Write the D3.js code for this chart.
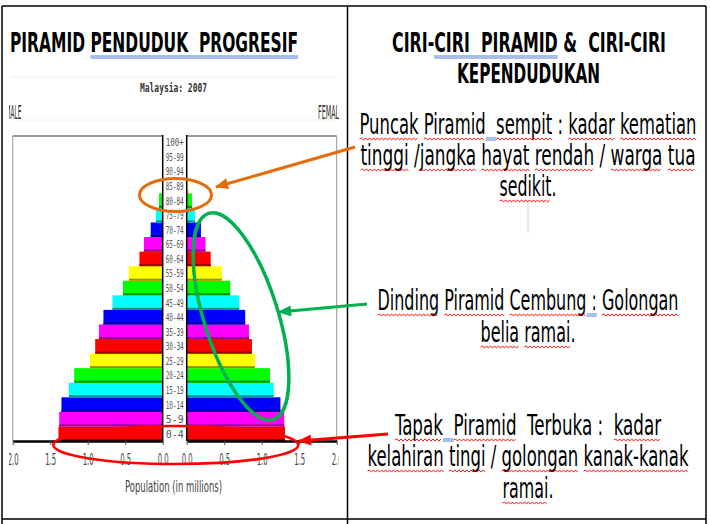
<!DOCTYPE html>
<html>
<head>
<meta charset="utf-8">
<script src="https://cdn.jsdelivr.net/npm/d3@7"></script>
<style>
  body { margin: 0; background: #fff; }
  svg { display: block; }
  text { white-space: pre; }
</style>
</head>
<body>
<svg id="chart" width="710" height="524"></svg>
<script>
// --- data (millions) ---
const ageGroups = ["0-4","5-9","10-14","15-19","20-24","25-29","30-34","35-39","40-44","45-49",
  "50-54","55-59","60-64","65-69","70-74","75-79","80-84","85-89","90-94","95-99","100+"]
const male   = [1.39,1.38,1.35,1.25,1.18,0.97,0.90,0.85,0.79,0.67,0.53,0.45,0.31,0.25,0.16,0.09,0.05,0.01,0.005,0.001,0]
const female = [1.31,1.30,1.25,1.16,1.11,0.91,0.87,0.83,0.78,0.70,0.58,0.47,0.32,0.25,0.19,0.11,0.07,0.02,0.005,0.001,0]
const barColors = ["#ff0000","#ff00ff","#0000ff","#00ffff","#00ff00","#ffff00"]
const xTicks = [0, 0.5, 1, 1.5, 2]

const notes = [
  { text: "Puncak Piramid  sempit : kadar kematian", y: 134, w: 337, red: ["Puncak","Piramid","sempit","kadar","kematian"], blue: ["  "] },
  { text: "tinggi /jangka hayat rendah / warga tua", y: 165, w: 335, red: ["tinggi","jangka","hayat","rendah","warga","tua"], blue: [] },
  { text: "sedikit.", y: 196, w: 57, red: ["sedikit"], blue: [] },
  { text: "Dinding Piramid Cembung : Golongan", y: 310, w: 301, red: ["Dinding","Piramid","Cembung","Golongan"], blue: [" :"] },
  { text: "belia ramai.", y: 342, w: 95, red: ["belia","ramai"], blue: [] },
  { text: "Tapak  Piramid  Terbuka :  kadar", y: 435, w: 266, red: ["Tapak","Piramid","kadar"], blue: ["  "] },
  { text: "kelahiran tingi / golongan kanak-kanak", y: 466, w: 321, red: ["kelahiran","tingi","golongan","kanak-kanak"], blue: [] },
  { text: "ramai.", y: 498, w: 51, red: ["ramai"], blue: [] }
]

const narrow = "'Liberation Sans Narrow', 'DejaVu Sans Condensed', 'Roboto', sans-serif"
const mono = "'DejaVu Sans Mono', 'Liberation Mono', monospace"

const svg = d3.select("#chart")
svg.append("rect").attr("width", 710).attr("height", 524).attr("fill", "#fff")

const defs = svg.append("defs")
defs.append("clipPath").attr("id", "imgclip")
  .append("rect").attr("x", 9).attr("y", 72).attr("width", 330).attr("height", 430)

function arrowMarker(id, color) {
  defs.append("marker").attr("id", id)
    .attr("viewBox", "0 0 12 10").attr("refX", 11).attr("refY", 5)
    .attr("markerWidth", 14).attr("markerHeight", 11)
    .attr("markerUnits", "userSpaceOnUse").attr("orient", "auto")
    .append("path").attr("d", "M0,0L12,5L0,10Z").attr("fill", color)
}

// --- helpers for the spell-check squiggles ---
function wavy(x0, x1, yy) {
  let p = `M${x0},${yy}`, up = true
  for (let x = x0 + 2; x <= x1; x += 2) { p += `L${x},${yy + (up ? -1.1 : 1.1)}`; up = !up }
  return p
}
function span(node, str, word, from) {
  const i = str.indexOf(word, from)
  const n = node.getNumberOfChars()
  if (i < 0 || i + word.length > n) return null
  return { x0: node.getStartPositionOfChar(i).x, x1: node.getEndPositionOfChar(i + word.length - 1).x, next: i + word.length }
}
function blueDouble(g, x0, x1, yy) {
  [0, 2].forEach(dy => g.append("line").attr("x1", x0).attr("x2", x1)
    .attr("y1", yy + dy).attr("y2", yy + dy).attr("stroke", "#3a6fd8").attr("stroke-width", 0.9))
}

// --- table frame ---
const frame = svg.append("g").attr("stroke", "#000").attr("stroke-width", 1.5)
frame.append("line").attr("x1", 2).attr("x2", 706).attr("y1", 6).attr("y2", 6)
frame.append("line").attr("x1", 2).attr("x2", 706).attr("y1", 519).attr("y2", 519)
;[2, 347.5, 706].forEach(x => frame.append("line").attr("x1", x).attr("x2", x).attr("y1", 6).attr("y2", 524))

// --- headers ---
const title = svg.append("text").attr("x", 10).attr("y", 52)
  .attr("font-family", narrow).attr("font-weight", "bold").attr("font-size", 27)
  .attr("textLength", 288).attr("lengthAdjust", "spacingAndGlyphs")
  .text("PIRAMID PENDUDUK  PROGRESIF")
const head1 = svg.append("text").attr("x", 529).attr("y", 52).attr("text-anchor", "middle")
  .attr("font-family", narrow).attr("font-weight", "bold").attr("font-size", 27)
  .attr("textLength", 274).attr("lengthAdjust", "spacingAndGlyphs")
  .text("CIRI-CIRI  PIRAMID &  CIRI-CIRI")
svg.append("text").attr("x", 528.5).attr("y", 83).attr("text-anchor", "middle")
  .attr("font-family", narrow).attr("font-weight", "bold").attr("font-size", 27)
  .attr("textLength", 143).attr("lengthAdjust", "spacingAndGlyphs")
  .text("KEPENDUDUKAN")

// --- pyramid picture ---
const img = svg.append("g").attr("clip-path", "url(#imgclip)")
const plotTop = 136, base = 441
const xMale = d3.scaleLinear().domain([0, 2]).range([162.7, 12.7])
const xFemale = d3.scaleLinear().domain([0, 2]).range([186.7, 336.7])
const y = d3.scaleBand().domain(ageGroups).range([base, base - ageGroups.length * 14.57])

img.append("line").attr("x1", 12).attr("x2", 337).attr("y1", 77).attr("y2", 77).attr("stroke", "#ececec")
img.append("line").attr("x1", 12).attr("x2", 337).attr("y1", 120).attr("y2", 120).attr("stroke", "#f2f2f2")
img.append("text").attr("x", 173.5).attr("y", 92).attr("text-anchor", "middle")
  .attr("font-family", mono).attr("font-weight", "bold").attr("font-size", 13).attr("fill", "#333")
  .attr("textLength", 67).attr("lengthAdjust", "spacingAndGlyphs").text("Malaysia: 2007")
img.append("text").attr("x", 21.5).attr("y", 119).attr("text-anchor", "end")
  .attr("font-family", narrow).attr("font-size", 20).attr("fill", "#333")
  .attr("textLength", 16).attr("lengthAdjust", "spacingAndGlyphs").text("MALE")
img.append("text").attr("x", 318).attr("y", 119)
  .attr("font-family", narrow).attr("font-size", 20).attr("fill", "#333")
  .attr("textLength", 25).attr("lengthAdjust", "spacingAndGlyphs").text("FEMALE")

// plot box
const box = img.append("g").attr("stroke", "#999").attr("fill", "none")
box.append("line").attr("x1", 12.7).attr("x2", 162.7).attr("y1", plotTop).attr("y2", plotTop).attr("stroke-width", 2)
box.append("line").attr("x1", 186.7).attr("x2", 336.7).attr("y1", plotTop).attr("y2", plotTop).attr("stroke-width", 2)
box.append("line").attr("x1", 12.7).attr("x2", 12.7).attr("y1", plotTop).attr("y2", base)
box.append("line").attr("x1", 336.7).attr("x2", 336.7).attr("y1", plotTop).attr("y2", base)

const rows = ageGroups.map((a, i) => ({ age: a, m: male[i], f: female[i], c: barColors[i % barColors.length] }))

function bars(scale, key) {
  const g = img.append("g")
  g.selectAll("rect.bar").data(rows.filter(d => d[key] > 0)).join("rect").attr("class", "bar")
    .attr("x", d => Math.min(scale(0), scale(d[key])))
    .attr("y", d => y(d.age))
    .attr("width", d => Math.abs(scale(d[key]) - scale(0)))
    .attr("height", y.bandwidth())
    .attr("fill", d => d.c)
  g.selectAll("rect.shade").data(rows.filter(d => d[key] > 0)).join("rect").attr("class", "shade")
    .attr("x", d => Math.min(scale(0), scale(d[key])))
    .attr("y", d => y(d.age) + y.bandwidth() - 2)
    .attr("width", d => Math.abs(scale(d[key]) - scale(0)))
    .attr("height", 2)
    .attr("fill", d => d3.color(d.c).darker(1.6))
}
bars(xMale, "m")
bars(xFemale, "f")

// centre age column
img.append("g").selectAll("text").data(ageGroups).join("text")
  .attr("x", 174.7).attr("y", d => y(d) + y.bandwidth() / 2 + 4).attr("text-anchor", "middle")
  .attr("font-family", mono).attr("font-size", 11).attr("fill", "#555")
  .attr("textLength", 18).attr("lengthAdjust", "spacingAndGlyphs")
  .text(d => d)
;[162.7, 186.7].forEach(x => img.append("line").attr("x1", x).attr("x2", x)
  .attr("y1", plotTop - 1).attr("y2", base).attr("stroke", "#000").attr("stroke-width", 1.5))

// axes
function axis(scale) {
  const g = img.append("g").attr("transform", `translate(0,${base})`)
    .call(d3.axisBottom(scale).tickValues(xTicks).tickSize(4).tickSizeOuter(0).tickFormat(d3.format(".1f")))
  g.select(".domain").attr("stroke", "#000").attr("stroke-width", 2.5)
  g.selectAll(".tick line").attr("stroke", "#555")
  g.selectAll(".tick text").attr("y", 14).attr("dy", "0.6em")
    .attr("font-family", narrow).attr("font-size", 16).attr("fill", "#444")
    .attr("textLength", 11).attr("lengthAdjust", "spacingAndGlyphs")
}
axis(xMale)
axis(xFemale)
img.append("text").attr("x", 173.5).attr("y", 492).attr("text-anchor", "middle")
  .attr("font-family", narrow).attr("font-size", 16).attr("fill", "#444")
  .attr("textLength", 97).attr("lengthAdjust", "spacingAndGlyphs").text("Population (in millions)")

// --- right column notes ---
const noteG = svg.append("g")
notes.forEach(n => {
  const t = noteG.append("text").attr("x", 528).attr("y", n.y).attr("text-anchor", "middle")
    .attr("font-family", narrow).attr("font-size", 28).attr("fill", "#000")
    .attr("textLength", n.w).attr("lengthAdjust", "spacingAndGlyphs").text(n.text)
  const node = t.node()
  let from = 0
  n.red.forEach(w => {
    const s = span(node, n.text, w, from)
    if (!s) return
    from = s.next
    noteG.append("path").attr("d", wavy(s.x0, s.x1, n.y + 5))
      .attr("fill", "none").attr("stroke", "#e00").attr("stroke-width", 0.9)
  })
  n.blue.forEach(w => {
    const s = span(node, n.text, w, 0)
    if (s) blueDouble(noteG, s.x0, s.x1, n.y + 4)
  })
})
svg.append("line").attr("x1", 528).attr("x2", 528).attr("y1", 203).attr("y2", 233).attr("stroke", "#d0d0d0")

// header underlines
{
  const s1 = span(title.node(), "PIRAMID PENDUDUK  PROGRESIF", "PENDUDUK  PROGRESIF", 0)
  if (s1) blueDouble(svg, s1.x0, s1.x1, 56)
  const s2 = span(head1.node(), "CIRI-CIRI  PIRAMID &  CIRI-CIRI", "CIRI  PIRAMID", 0)
  if (s2) blueDouble(svg, s2.x0, s2.x1, 56)
}

// --- annotations ---
arrowMarker("arrOrange", "#e46c0a")
arrowMarker("arrGreen", "#00b050")
arrowMarker("arrRed", "#ff0000")
const ann = svg.append("g").attr("fill", "none")
ann.append("ellipse").attr("cx", 175.5).attr("cy", 195).attr("rx", 36).attr("ry", 16.5)
  .attr("stroke", "#e46c0a").attr("stroke-width", 3)
ann.append("ellipse").attr("cx", 0).attr("cy", 0).attr("rx", 37).attr("ry", 108)
  .attr("transform", "translate(241,316.5) rotate(-17.4)")
  .attr("stroke", "#00b050").attr("stroke-width", 3.5)
ann.append("ellipse").attr("cx", 175.8).attr("cy", 445).attr("rx", 122.5).attr("ry", 19)
  .attr("stroke", "#ff0000").attr("stroke-width", 2.5)
ann.append("line").attr("x1", 355).attr("y1", 147).attr("x2", 216).attr("y2", 187)
  .attr("stroke", "#e46c0a").attr("stroke-width", 3).attr("marker-end", "url(#arrOrange)")
ann.append("line").attr("x1", 367).attr("y1", 304).attr("x2", 279).attr("y2", 312)
  .attr("stroke", "#00b050").attr("stroke-width", 3).attr("marker-end", "url(#arrGreen)")
ann.append("line").attr("x1", 388).attr("y1", 434).attr("x2", 299).attr("y2", 441)
  .attr("stroke", "#ff0000").attr("stroke-width", 3).attr("marker-end", "url(#arrRed)")
</script>
</body>
</html>
